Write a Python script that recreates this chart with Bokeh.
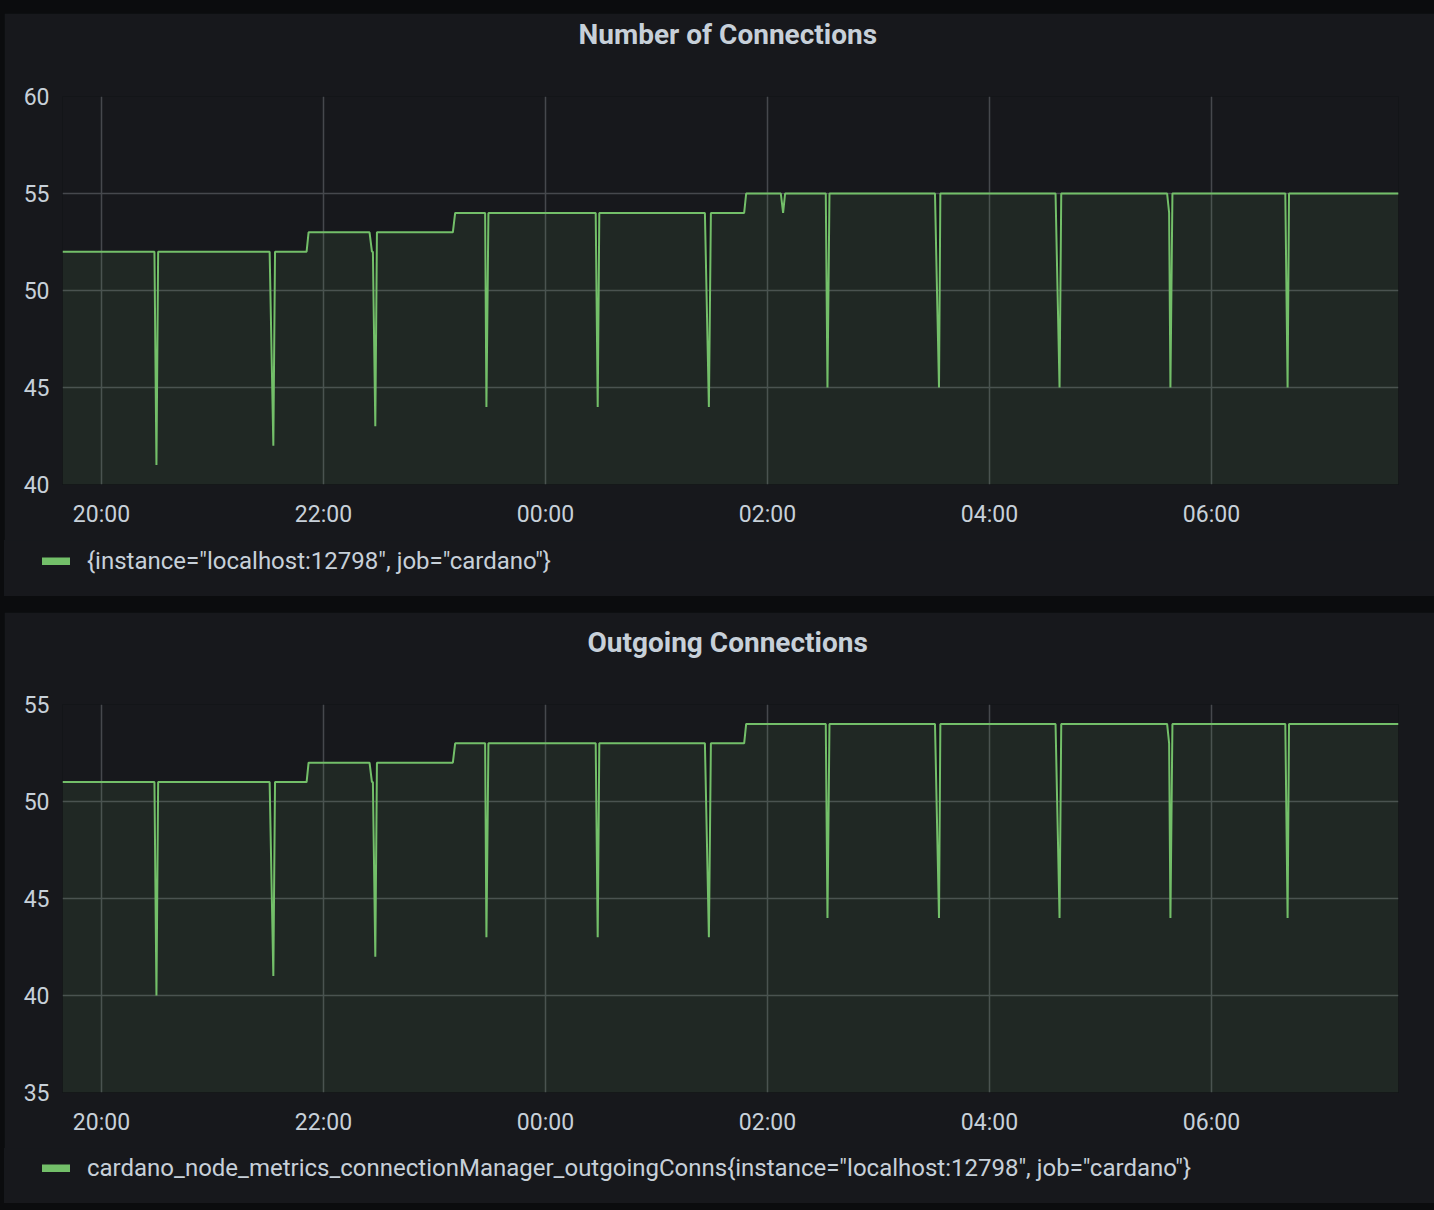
import pandas as pd
from bokeh.plotting import figure
from bokeh.models import (ColumnDataSource, Range1d, FixedTicker, DatetimeTickFormatter,
                          Legend, LegendItem, Spacer, Title)
from bokeh.layouts import column, row
from bokeh.embed import file_html
from bokeh.resources import INLINE

# ---------------- data ----------------
EVENING_DATE = "2021-06-14"
MORNING_DATE = "2021-06-15"

TIMES = [
    "19:38:55", "20:28:37", "20:29:42", "20:30:37",
    "21:30:53", "21:32:53", "21:33:48",
    "21:50:52", "21:51:56",
    "22:24:53", "22:26:11", "22:26:42", "22:28:00", "22:28:53",
    "23:09:55", "23:11:10",
    "23:27:22", "23:28:04", "23:29:09",
    "00:27:08", "00:28:13", "00:29:05",
    "01:26:10", "01:28:19", "01:29:24",
    "01:47:23", "01:48:28",
    "02:07:12", "02:08:26", "02:09:31",
    "02:31:30", "02:32:25", "02:33:30",
    "03:30:32", "03:32:42", "03:33:26",
    "04:35:42", "04:37:52", "04:38:47",
    "05:36:01", "05:37:06", "05:37:48", "05:38:53",
    "06:39:54", "06:41:08", "06:41:54",
    "07:41:05",
]

CONNECTIONS = [
    52, 52, 41, 52,
    52, 42, 52,
    52, 53,
    53, 52, 52, 43, 53,
    53, 54,
    54, 44, 54,
    54, 44, 54,
    54, 44, 54,
    54, 55,
    55, 54, 55,
    55, 45, 55,
    55, 45, 55,
    55, 45, 55,
    55, 54, 45, 55,
    55, 45, 55,
    55,
]

OUTGOING = [
    51, 51, 40, 51,
    51, 41, 51,
    51, 52,
    52, 51, 51, 42, 52,
    52, 53,
    53, 43, 53,
    53, 43, 53,
    53, 43, 53,
    53, 54,
    54, 54, 54,
    54, 44, 54,
    54, 44, 54,
    54, 44, 54,
    54, 53, 44, 54,
    54, 44, 54,
    54,
]

PANEL1_TITLE = "Number of Connections"
PANEL2_TITLE = "Outgoing Connections"
PANEL1_LEGEND = '{instance="localhost:12798", job="cardano"}'
PANEL2_LEGEND = 'cardano_node_metrics_connectionManager_outgoingConns{instance="localhost:12798", job="cardano"}'

X_START = "19:38:55"
X_END = "07:41:05"
X_TICKS = ["20:00", "22:00", "00:00", "02:00", "04:00", "06:00"]

Y1_RANGE = (40, 60)
Y1_TICKS = [40, 45, 50, 55, 60]
Y2_RANGE = (35, 55)
Y2_TICKS = [35, 40, 45, 50, 55]

# ---------------- style ----------------
BG_DARK = "#0b0c0e"
PANEL_BG = "#17181c"
GRID = "#46484d"
TEXT = "#c7d0d9"
GREEN = "#73BF69"
FONT = "Roboto"
LEFT_GAP = 4
W = 1434 - LEFT_GAP


def to_dt(t):
    h = int(t.split(":")[0])
    d = EVENING_DATE if h >= 12 else MORNING_DATE
    return pd.Timestamp(f"{d} {t}")


def to_ms(t):
    return to_dt(t).value // 10**6


def make_panel(title, values, yrange, yticks, height, top, bottom, title_offset):
    x = [to_dt(t) for t in TIMES]
    src = ColumnDataSource(dict(x=x, y=values, base=[yrange[0]] * len(values)))
    p = figure(width=W, height=height, x_axis_type="datetime",
               x_range=Range1d(to_dt(X_START), to_dt(X_END)),
               y_range=Range1d(*yrange),
               output_backend="svg", toolbar_location=None,
               min_border_left=62 - LEFT_GAP, min_border_right=36,
               min_border_top=top, min_border_bottom=bottom,
               background_fill_color=PANEL_BG, border_fill_color=PANEL_BG,
               outline_line_color=None)

    # gap between the frame and the title (closest to the frame)
    p.add_layout(Title(text=" ", text_font_size="1px", standoff=43), "above")
    p.add_layout(Title(text=title, align="left", text_color=TEXT, text_font=FONT,
                       text_font_size="28px", text_font_style="bold",
                       standoff=0, offset=title_offset), "above")

    p.varea(x="x", y1="base", y2="y", source=src, fill_color=GREEN, fill_alpha=0.1)
    p.line(x="x", y="y", source=src, line_color=GREEN, line_width=2)

    p.xaxis.ticker = FixedTicker(ticks=[to_ms(t) for t in X_TICKS])
    p.xaxis.formatter = DatetimeTickFormatter(hours="%H:%M", days="%H:%M",
                                              hourmin="%H:%M", minutes="%H:%M")
    p.yaxis.ticker = FixedTicker(ticks=yticks)
    for ax in (p.xaxis[0], p.yaxis[0]):
        ax.axis_line_color = None
        ax.major_tick_line_color = None
        ax.minor_tick_line_color = None
        ax.major_tick_out = 0
        ax.major_tick_in = 0
        ax.minor_tick_out = 0
        ax.minor_tick_in = 0
        ax.major_label_text_color = TEXT
        ax.major_label_text_font = FONT
        ax.major_label_text_font_size = "23px"
    p.xaxis.major_label_standoff = 16
    p.yaxis.major_label_standoff = 13

    p.xgrid.ticker = p.xaxis.ticker
    p.ygrid.ticker = p.yaxis.ticker
    for g in (p.xgrid[0], p.ygrid[0]):
        g.grid_line_color = GRID
        g.grid_line_width = 1.5
    return p, src


def make_legend(panel, src, label, height):
    # legend strip below a panel; the series line itself lies outside this strip's y-range,
    # only its legend swatch is visible
    lf = figure(width=W, height=height, x_range=panel.x_range, y_range=Range1d(0, 1),
                output_backend="svg", toolbar_location=None,
                min_border_left=0, min_border_right=0,
                min_border_top=0, min_border_bottom=0,
                x_axis_location=None, y_axis_location=None,
                background_fill_color=PANEL_BG, border_fill_color=PANEL_BG,
                outline_line_color=None)
    lf.xgrid.visible = False
    lf.ygrid.visible = False
    swatch = lf.line(x="x", y="y", source=src, line_color=GREEN, line_width=8,
                     line_cap="round")
    legend = Legend(items=[LegendItem(label=label, renderers=[swatch])],
                    location=(42 - LEFT_GAP, 21), orientation="horizontal",
                    padding=0, margin=0, spacing=0,
                    glyph_width=28, glyph_height=8, label_standoff=17,
                    label_text_font=FONT, label_text_font_size="24px",
                    label_text_color=TEXT,
                    background_fill_alpha=0, border_line_alpha=0)
    lf.add_layout(legend)
    # wrapped in its own row so its frame is not aligned with the panel above
    return row(lf, styles={"background-color": PANEL_BG})


p1, s1 = make_panel(PANEL1_TITLE, CONNECTIONS, Y1_RANGE, Y1_TICKS,
                    height=527, top=83, bottom=56, title_offset=516)
l1 = make_legend(p1, s1, PANEL1_LEGEND, 56)
p2, s2 = make_panel(PANEL2_TITLE, OUTGOING, Y2_RANGE, Y2_TICKS,
                    height=536, top=92, bottom=56, title_offset=525)
l2 = make_legend(p2, s2, PANEL2_LEGEND, 55)

panels = column(Spacer(width=W, height=13), p1, l1, Spacer(width=W, height=16), p2, l2,
                Spacer(width=W, height=7),
                styles={"background-color": BG_DARK})
layout = row(Spacer(width=LEFT_GAP, height=1210), panels,
             styles={"background-color": BG_DARK})

open("out.html", "w").write(file_html(layout, INLINE))
